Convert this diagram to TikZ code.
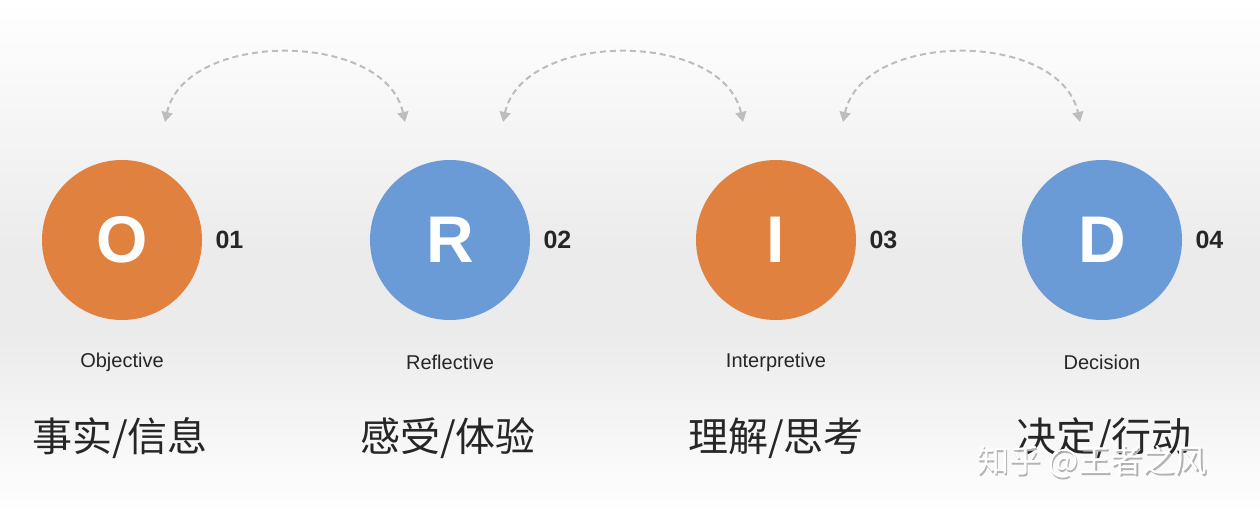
\documentclass[tikz,border=0pt]{standalone}
\usepackage{fontspec}
\setmainfont{Liberation Sans}
\newfontfamily\cjk{Noto Sans CJK SC}
\usetikzlibrary{arrows.meta}
\definecolor{oorange}{HTML}{E0813F}
\definecolor{oblue}{HTML}{6B9BD6}
\definecolor{arcgray}{HTML}{BDBDBD}
\tikzset{
 disc/.style={circle,minimum size=160pt,inner sep=0pt,text=white,font=\fontsize{66}{66}\selectfont\bfseries},
 num/.style={font=\fontsize{25}{25}\selectfont\bfseries,text=black!85},
 eng/.style={font=\fontsize{20}{20}\selectfont,text=black!85},
 zh/.style={font=\cjk\fontsize{40}{40}\selectfont,text=black!85},
 arc/.style={arcgray,line width=2pt,dash pattern=on 6pt off 4pt,{Triangle[width=11pt,length=10pt]}-{Triangle[width=11pt,length=10pt]}}
}
\begin{document}
\begin{tikzpicture}[x=1pt,y=-1pt]
\useasboundingbox (0,0) rectangle (1260,513);
\shade[top color=white,bottom color=black!8] (0,0) rectangle (1260,260);
\fill[black!8] (0,259) rectangle (1260,330);
\shade[top color=black!8,bottom color=white] (0,329) rectangle (1260,513);
\foreach \x/\l/\c/\n/\e in {122/O/oorange/01/Objective, 450/R/oblue/02/Reflective, 776/I/oorange/03/Interpretive, 1102/D/oblue/04/Decision}{
 \node[disc,fill=\c] (c\n) at (\x,240) {\l};
 \node[num,anchor=west] (n\n) at (\x+90,240) {\n};
 \node[eng] (e\n) at (\x,362) {\e};
}
\node[zh] (z01) at (120,438) {事实/信息};
\node[zh] (z02) at (448,438) {感受/体验};
\node[zh] (z03) at (776,438) {理解/思考};
\node[zh] (z04) at (1104,438) {决定/行动};
\coordinate (a1) at (165,122); \coordinate (b1) at (405,122);
\coordinate (a2) at (503,122); \coordinate (b2) at (743,122);
\coordinate (a3) at (843,122); \coordinate (b3) at (1080,122);
\draw[arc] (a1) .. controls (185,30) and (385,30) .. (b1);
\draw[arc] (a2) .. controls (523,30) and (723,30) .. (b2);
\draw[arc] (a3) .. controls (863,30) and (1060,30) .. (b3);
\node[font=\cjk\fontsize{32}{32}\selectfont,text=black!30] at (1093.5,463.5) {知乎 @王者之风};
\node[font=\cjk\fontsize{32}{32}\selectfont,text=white] (wm) at (1092,462) {知乎 @王者之风};
\end{tikzpicture}
\end{document}
